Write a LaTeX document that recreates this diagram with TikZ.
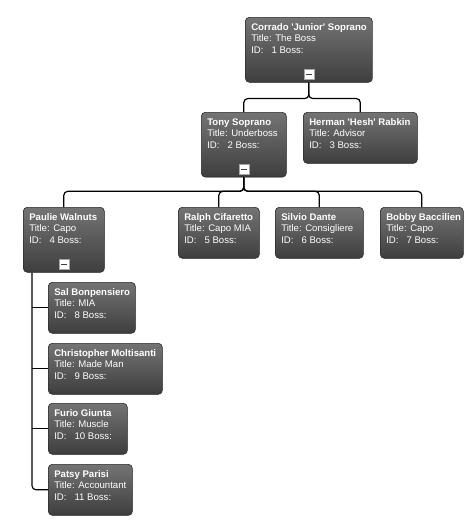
\documentclass[tikz,border=0pt]{standalone}
\usepackage{fontspec}
\setmainfont{Liberation Sans}
\usetikzlibrary{shadows}
\definecolor{cardtop}{HTML}{747474}
\definecolor{cardbot}{HTML}{3E3E3E}
\definecolor{cardedge}{HTML}{2A2A2A}
\newcommand{\card}[4][9pt]{\mbox{\textbf{#2}}\\\mbox{Title: #3}\\\mbox{ID:\hspace{8pt}#4 Boss:}\rule[-#1]{0pt}{#1}}
\begin{document}
\begin{tikzpicture}[x=1pt,y=-1pt,
  member/.style={rectangle,rounded corners=4pt,top color=cardtop,bottom color=cardbot,
    draw=cardedge,line width=0.6pt,text=white,anchor=north west,align=flush left,
    inner xsep=6pt,inner ysep=6pt,font=\fontsize{9.6}{11.5}\selectfont,
    drop shadow={opacity=0.2,shadow xshift=0.8pt,shadow yshift=-0.8pt}},
  toggle/.style={rectangle,fill=white,draw=black!35,line width=0.5pt,
    minimum size=10pt,inner sep=0pt},
  link/.style={line width=1.2pt,rounded corners=4pt}]
  \fill[white] (0,0) rectangle (474,530);
  \useasboundingbox (0,0) rectangle (474,530);
  \node[member,text width=115pt] (corrado) at (245,17) {\card[23pt]{Corrado \textquotesingle Junior\textquotesingle\ Soprano}{The Boss}{1}};
  \node[member,text width=73pt] (tony) at (201,112) {\card[23pt]{Tony Soprano}{Underboss}{2}};
  \node[member,text width=102pt] (herman) at (303,112) {\card{Herman \textquotesingle Hesh\textquotesingle\ Rabkin}{Advisor}{3}};
  \node[member,text width=69pt] (paulie) at (23,207) {\card[23pt]{Paulie Walnuts}{Capo}{4}};
  \node[member,text width=69pt] (ralph) at (178,207) {\card{Ralph Cifaretto}{Capo MIA}{5}};
  \node[member,text width=76pt] (silvio) at (275,207) {\card{Silvio Dante}{Consigliere}{6}};
  \node[member,text width=71pt] (bobby) at (380,207) {\card{Bobby Baccilien}{Capo}{7}};
  \node[member,text width=75pt] (sal) at (48,282) {\card{Sal Bonpensiero}{MIA}{8}};
  \node[member,text width=102pt] (chris) at (48,343) {\card{Christopher Moltisanti}{Made Man}{9}};
  \node[member,text width=67pt] (furio) at (48,403) {\card{Furio Giunta}{Muscle}{10}};
  \node[member,text width=72pt] (patsy) at (48,464) {\card{Patsy Parisi}{Accountant}{11}};
  \foreach \boss in {corrado,tony,paulie}
    \node[toggle] (\boss btn) at ([yshift=8pt]\boss.south) {\textcolor{black!75}{\rule{5.5pt}{1.4pt}}};
  \draw[link] (corrado.south) -- ++(0,16) -| (tony.north);
  \draw[link] (corrado.south) -- ++(0,16) -| (herman.north);
  \foreach \kid in {paulie,ralph,silvio,bobby}
    \draw[link] (tony.south) -- ++(0,14) -| (\kid.north);
  \coordinate (rail) at ([xshift=9pt]paulie.south west);
  \draw[link] (rail) |- (patsy.west);
  \foreach \kid in {sal,chris,furio}
    \draw[link] (rail |- \kid.west) -- (\kid.west);
\end{tikzpicture}
\end{document}
